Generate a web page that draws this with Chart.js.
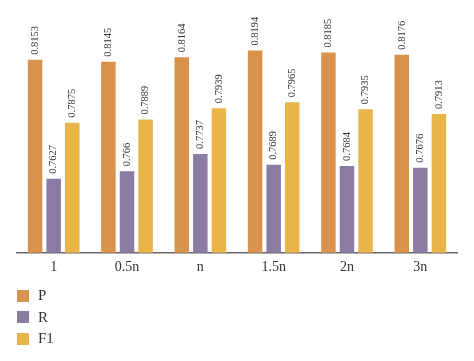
<!DOCTYPE html>
<html>
<head>
<meta charset="utf-8">
<script src="https://cdn.jsdelivr.net/npm/chart.js@4/dist/chart.umd.min.js"></script>
<style>
html,body{margin:0;padding:0;background:#fff;}
#wrap{position:relative;width:474px;height:361px;}
#legend{position:absolute;left:17px;top:285px;font-family:"Liberation Serif",serif;font-size:15px;color:#333;}
.item{display:flex;align-items:center;height:21.5px;}
.sw{width:12px;height:12px;margin-right:9px;}
</style>
</head>
<body>
<div id="wrap">
<canvas id="c" width="474" height="361"></canvas>
<div id="legend"></div>
</div>
<script>
const categories = ["1", "0.5n", "n", "1.5n", "2n", "3n"];
const seriesNames = ["P", "R", "F1"];
const P  = [0.8153, 0.8145, 0.8164, 0.8194, 0.8185, 0.8176];
const R  = [0.7627, 0.766, 0.7737, 0.7689, 0.7684, 0.7676];
const F1 = [0.7875, 0.7889, 0.7939, 0.7965, 0.7935, 0.7913];
const colors = ["#D9924B", "#8A7BA2", "#E9B54B"];

const valueLabels = {
  id: 'valueLabels',
  afterDatasetsDraw(chart) {
    const ctx = chart.ctx;
    ctx.save();
    ctx.font = '10.5px "Liberation Serif", serif';
    ctx.fillStyle = '#333';
    ctx.textAlign = 'left';
    ctx.textBaseline = 'middle';
    chart.data.datasets.forEach((ds, di) => {
      const meta = chart.getDatasetMeta(di);
      meta.data.forEach((bar, i) => {
        ctx.save();
        ctx.translate(bar.x, bar.y - 5);
        ctx.rotate(-Math.PI / 2);
        ctx.fillText(String(ds.data[i]), 0, 0);
        ctx.restore();
      });
    });
    ctx.restore();
  }
};

const data = [P, R, F1];
const chart = new Chart(document.getElementById('c'), {
  type: 'bar',
  data: {
    labels: categories,
    datasets: seriesNames.map((n, i) => ({
      label: n, data: data[i], backgroundColor: colors[i],
      categoryPercentage: 0.76, barPercentage: 0.78
    }))
  },
  options: {
    responsive: false,
    animation: false,
    layout: { padding: { left: 17, right: 17, top: 4, bottom: 79.5 } },
    plugins: { legend: { display: false }, tooltip: { enabled: false } },
    scales: {
      x: {
        grid: { display: false, drawTicks: false },
        border: { display: true, color: '#666', width: 1.5 },
        ticks: { color: '#333', padding: 6, font: { family: '"Liberation Serif", serif', size: 14 } }
      },
      y: { display: false, min: 0.73, max: 0.84 }
    }
  },
  plugins: [valueLabels]
});

const lg = document.getElementById('legend');
chart.data.datasets.forEach(ds => {
  const d = document.createElement('div'); d.className = 'item';
  const s = document.createElement('span'); s.className = 'sw'; s.style.background = ds.backgroundColor;
  const t = document.createElement('span'); t.textContent = ds.label;
  d.appendChild(s); d.appendChild(t); lg.appendChild(d);
});
</script>
</body>
</html>
